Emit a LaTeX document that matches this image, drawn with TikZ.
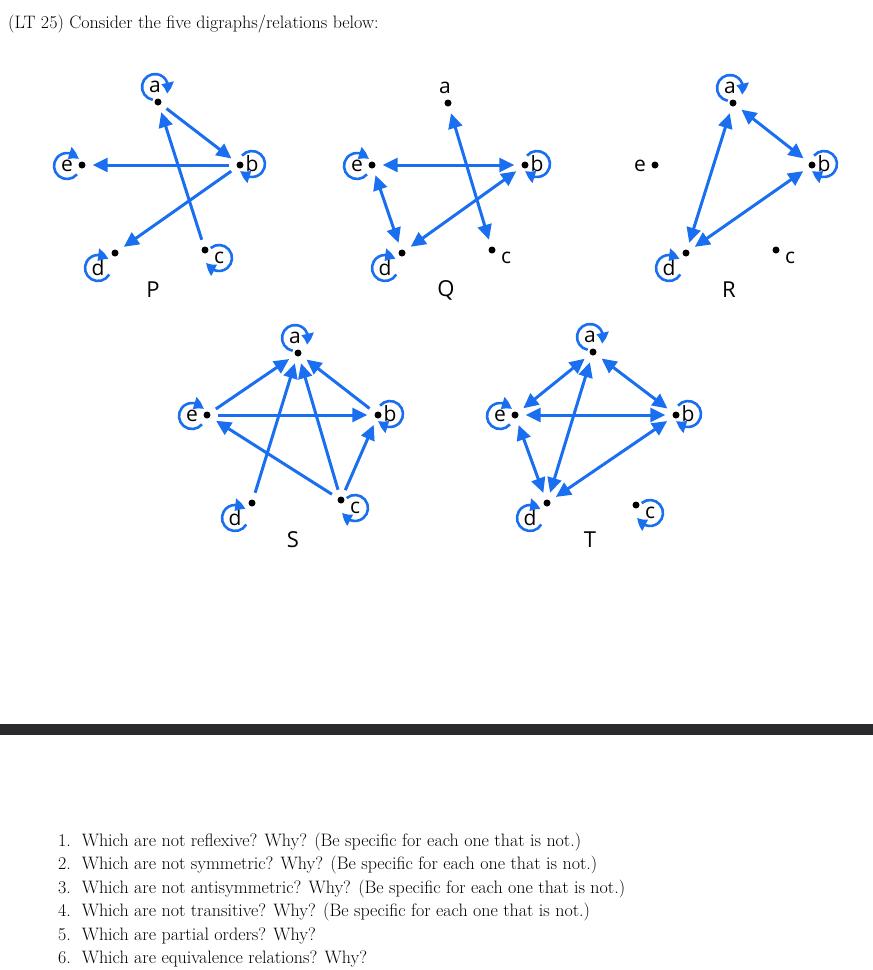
\documentclass[tikz,border=0pt]{standalone}
\usepackage{fontspec}
\newfontfamily\lblfont{Open Sans}
\usetikzlibrary{arrows.meta,bending}
\definecolor{eb}{HTML}{1A6FF0}
\definecolor{barc}{HTML}{2A2A2E}
\tikzset{
  dot/.style={circle,fill=black,inner sep=0pt,minimum size=7pt},
  lbl/.style={font=\lblfont\fontsize{21}{21}\selectfont,inner sep=0pt},
  gname/.style={font=\lblfont\fontsize{22}{22}\selectfont,inner sep=0pt},
  ed/.style={eb,line width=3pt,-{Triangle[length=15pt,width=14pt]},shorten >=7pt,shorten <=7pt},
  bed/.style={eb,line width=3pt,{Triangle[length=15pt,width=14pt]}-{Triangle[length=15pt,width=14pt]},shorten >=7pt,shorten <=7pt},
  loopst/.style={eb,line width=2.6pt,-{Triangle[length=11pt,width=12pt,bend]}},
  qtext/.style={font=\fontsize{18}{22}\selectfont,anchor=base west,inner sep=0pt}
}
\newcommand\lp[2]{\draw[loopst] ([shift={(-#2-290:13)}]#1.center) arc[start angle=-#2-290,end angle=-#2,radius=13];}
\newcommand\verts[6]{%
  \node[dot] (#1a) at #2 {};
  \node[dot] (#1b) at #3 {};
  \node[dot] (#1e) at #4 {};
  \node[dot] (#1d) at #5 {};
  \node[dot] (#1c) at #6 {};
  \node[lbl] (#1al) at ([shift={(-3,-15)}]#1a) {a};
  \node[lbl] (#1bl) at ([shift={(12,-1)}]#1b) {b};
  \node[lbl] (#1el) at ([shift={(-15,1)}]#1e) {e};
  \node[lbl] (#1dl) at ([shift={(-17,15)}]#1d) {d};
  \node[lbl] (#1cl) at ([shift={(14,8)}]#1c) {c};
}
\begin{document}
\begin{tikzpicture}[x=1pt,y=-1pt]
\useasboundingbox (0,0) rectangle (873,970);
\node[qtext] (hdr) at (8,28) {(LT 25) Consider the five digraphs/relations below:};
% P
\verts{P}{(158,102)}{(240,165)}{(82,165)}{(115,253)}{(205,250)}
\node[gname] (Pn) at (153,290) {P};
\draw[ed] (Pa) -- (Pb); \draw[ed] (Pb) -- (Pe); \draw[ed] (Pb) -- (Pd); \draw[ed] (Pc) -- (Pa);
\lp{Pal}{-30} \lp{Pbl}{-150} \lp{Pel}{30} \lp{Pdl}{40} \lp{Pcl}{-160}
% Q
\verts{Q}{(448,103)}{(525,165)}{(372,165)}{(402,253)}{(492,250)}
\node[gname] (Qn) at (446,290) {Q};
\draw[bed] (Qe) -- (Qb); \draw[bed] (Qe) -- (Qd); \draw[bed] (Qb) -- (Qd); \draw[bed] (Qa) -- (Qc);
\lp{Qbl}{-150} \lp{Qel}{30} \lp{Qdl}{40}
% R
\verts{R}{(733,103)}{(812,165)}{(655,165)}{(686,253)}{(776,250)}
\node[gname] (Rn) at (729,290) {R};
\draw[bed] (Ra) -- (Rb); \draw[bed] (Ra) -- (Rd); \draw[bed] (Rb) -- (Rd);
\lp{Ral}{-30} \lp{Rbl}{-150} \lp{Rdl}{40}
% S
\verts{S}{(298,353)}{(378,415)}{(207,415)}{(252,503)}{(341,500)}
\node[gname] (Sn) at (293,540) {S};
\draw[ed] (Se) -- (Sa); \draw[ed] (Sd) -- (Sa); \draw[ed] (Sc) -- (Sa); \draw[ed] (Sb) -- (Sa);
\draw[ed] (Se) -- (Sb); \draw[ed] (Sc) -- (Se); \draw[ed] (Sc) -- (Sb);
\lp{Sal}{-30} \lp{Sbl}{-150} \lp{Sel}{30} \lp{Sdl}{40} \lp{Scl}{-160}
% T
\verts{T}{(593,352)}{(676,415)}{(515,415)}{(547,503)}{(636,505)}
\node[gname] (Tn) at (590,540) {T};
\draw[bed] (Ta) -- (Te); \draw[bed] (Ta) -- (Tb); \draw[bed] (Ta) -- (Td);
\draw[bed] (Te) -- (Tb); \draw[bed] (Te) -- (Td); \draw[bed] (Tb) -- (Td);
\lp{Tal}{-30} \lp{Tbl}{-150} \lp{Tel}{30} \lp{Tdl}{40} \lp{Tcl}{-160}
% bar
\fill[barc] (0,724) rectangle (873,735);
% questions
\node[qtext] (q1) at (58,846) {1.\ \ Which are not reflexive? Why? (Be specific for each one that is not.)};
\node[qtext] (q2) at (58,869) {2.\ \ Which are not symmetric? Why? (Be specific for each one that is not.)};
\node[qtext] (q3) at (58,893) {3.\ \ Which are not antisymmetric? Why? (Be specific for each one that is not.)};
\node[qtext] (q4) at (58,916) {4.\ \ Which are not transitive? Why? (Be specific for each one that is not.)};
\node[qtext] (q5) at (58,940) {5.\ \ Which are partial orders? Why?};
\node[qtext] (q6) at (58,963) {6.\ \ Which are equivalence relations? Why?};
\end{tikzpicture}
\end{document}
